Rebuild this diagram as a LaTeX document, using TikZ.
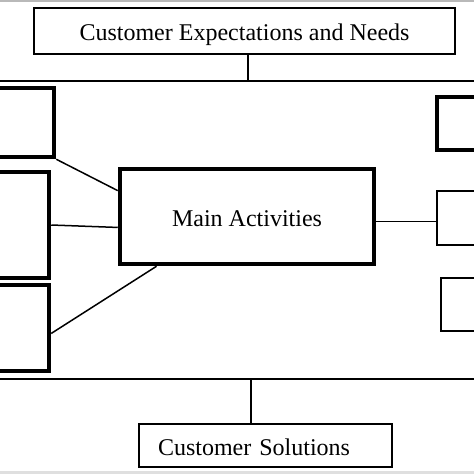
\documentclass[tikz,border=0pt]{standalone}
\usepackage{fontspec}
\setmainfont{Liberation Serif}
\usetikzlibrary{positioning,calc}

\begin{document}
\begin{tikzpicture}[x=1pt, y=-1pt, thin box/.style={rectangle, draw, line width=1.5pt, fill=white, font=\fontsize{24}{28}\selectfont, text height=19pt, text depth=0pt}, thick box/.style={rectangle, draw, line width=4.5pt, fill=white, font=\fontsize{24}{28}\selectfont, text height=19pt, text depth=0pt}, link/.style={line width=1.5pt}]
    \useasboundingbox (0,0) rectangle (474,474);
    \clip (0,0) rectangle (474,474);
    \fill[gray!55] (0,0) rectangle (474,2);
    \fill[gray!25] (0,471) rectangle (474,474);

    \node[rectangle, draw, line width=1.5pt, minimum width=494pt, minimum height=298pt] (frame) at (237,230) {};
    \node[thin box, minimum width=421pt, minimum height=46pt] (needs) at (244.5,31) {Customer Expectations and Needs};
    \node[thin box, text width=215pt, inner xsep=19pt, align=left, minimum height=43pt] (sol) at (265.5,445.5) {Customer Solutions};
    \node[thick box, minimum width=254pt, minimum height=95pt] (main) at (247,216.5) {Main Activities};

    \node[thick box, minimum width=74pt, minimum height=69pt] (left1) at (17,122.5) {};
    \node[thick box, minimum width=69pt, minimum height=106pt] (left2) at (14.5,225) {};
    \node[thick box, minimum width=69pt, minimum height=86pt] (left3) at (14.5,328) {};
    \node[thick box, minimum width=57pt, minimum height=53pt] (right1) at (465.5,123.5) {};
    \node[thin box, minimum width=57pt, minimum height=54pt] (right2) at (465.5,218) {};
    \node[thin box, minimum width=53pt, minimum height=53pt] (right3) at (467.5,304.5) {};

    \coordinate (needsout) at (248,54);
    \coordinate (solin) at (251,379);
    \draw[link] (needsout) -- (needsout |- frame.north);
    \draw[link] (solin) -- (solin |- sol.north);

    \draw[link] (left1.south east) -- ($(main.north west)!0.24!(main.south west)$);
    \draw[link] (left2.east) -- ($(main.north west)!0.61!(main.south west)$);
    \draw[link] ($(left3.north east)!0.56!(left3.south east)$) -- ($(main.south west)!0.15!(main.south east)$);
    \coordinate (mainout) at ($(main.north east)!0.55!(main.south east)$);
    \draw[link] (mainout) -- (mainout -| right2.west);
\end{tikzpicture}
\end{document}
